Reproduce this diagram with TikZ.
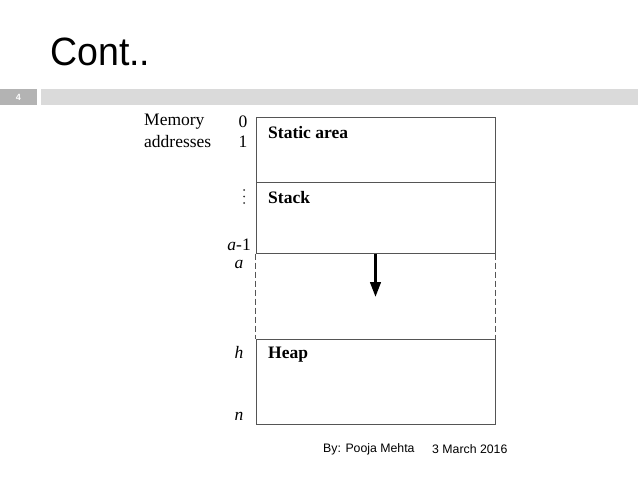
\documentclass[tikz,border=0pt]{standalone}
\usepackage{fontspec}
\setmainfont{Liberation Serif}
\newfontfamily\arial{Liberation Sans}
\usepackage{tikz}
\usetikzlibrary{arrows.meta}
\definecolor{barlight}{HTML}{DADADA}
\definecolor{bardark}{HTML}{B3B3B3}
\definecolor{boxline}{HTML}{555555}

\begin{document}
\begin{tikzpicture}[x=1pt,y=-1pt,
    region/.style={
      draw=boxline,
      line width=1pt,
      minimum width=239pt,
      inner sep=0pt
    }]
\tikzset{addr/.style = {font=\fontsize{17.5}{18}\selectfont,inner sep=0pt}}
\tikzset{area/.style = {font=\fontsize{17.5}{18}\selectfont\bfseries,inner sep=0pt,anchor=west}}
\tikzset{foot/.style = {font=\arial\fontsize{12.3}{14}\selectfont,inner sep=0pt,anchor=west}}
\tikzset{gap/.style = {draw=boxline,line width=1pt,dash pattern=on 6pt off 3pt}}
\useasboundingbox (0,0) rectangle (638,479);
% slide heading
\node[anchor=base west,inner sep=0pt,font=\arial\fontsize{39.5}{40}\selectfont] (title) at (50,65) {\scalebox{0.95}[1]{Cont..}};
\node[fill=bardark,minimum width=36.7pt,minimum height=16pt,inner sep=0pt,text=white,font=\arial\bfseries\fontsize{9}{9}\selectfont] (page) at (18.35,97) {4};
\node[fill=barlight,minimum width=597pt,minimum height=16pt,inner sep=0pt] (bar) at (339.5,97) {};
% memory layout
\node[region,minimum height=65pt] (static) at (375.5,149.5) {};
\node[region,minimum height=71pt] (stack) at (375.5,217.5) {};
\node[region,minimum height=85pt] (heap) at (375.5,381.5) {};
\draw[gap] (stack.south west) -- (heap.north west);
\draw[gap] (stack.south east) -- (heap.north east);
\node[area] (lstatic) at (268,133) {Static area};
\node[area] (lstack) at (268,198) {Stack};
\node[area] (lheap) at (268,355) {Heap};
\coordinate (grow) at (375.5,297);
\draw[line width=2.8pt,-{Triangle[length=15pt,width=10.5pt]}] (stack.south) -- (grow);
%\draw (0,0) circle [radius=0.5];
\node[addr,anchor=west] (mem) at (144,122) {Memory};
\node[addr,anchor=west] (adr) at (144,142) {addresses};
\node[addr] (a0) at (243,122) {0};
\node[addr] (a1) at (243,142) {1};
\foreach \y in {190,196.5,203}
  \fill[black!80] (244,\y) circle [radius=1pt];
\node[addr,anchor=east] (am1) at (251,245) {\textit{a}-1};
\node[addr] (aa) at (239,264) {\textit{a}};
\node[addr] (ah) at (239,352) {\textit{h}};
\node[addr] (an) at (239,416) {\textit{n}};
% footer
\node[foot] (author) at (323,449) {By: Pooja Mehta};
\node[foot] (date) at (432,449) {3 March 2016};
\end{tikzpicture}
\end{document}
